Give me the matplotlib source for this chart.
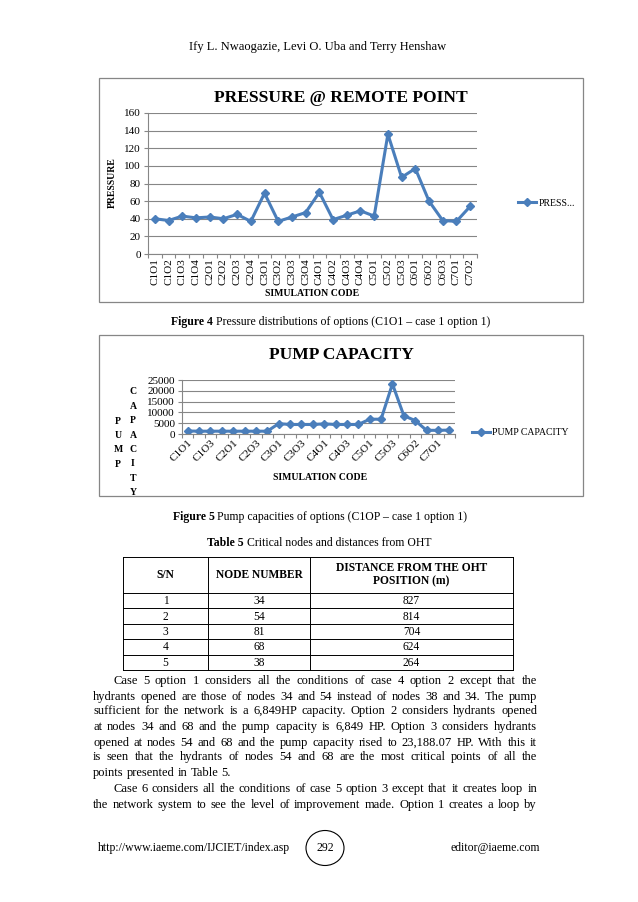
#!/usr/bin/env python3
"""
plot.py - page 292: pressure at remote point, pump capacity, table 5 and text.
"""
import numpy as np
import matplotlib
matplotlib.use("Agg")
import matplotlib.pyplot as plt
from matplotlib.font_manager import FontProperties, findfont, get_font
from matplotlib.backends.backend_agg import get_hinting_flag
from matplotlib.patches import Rectangle, Ellipse

# ─── Data ─────────────────────────────────────────────────────────────────
CODES = ["C1O1", "C1O2", "C1O3", "C1O4", "C2O1", "C2O2", "C2O3", "C2O4",
         "C3O1", "C3O2", "C3O3", "C3O4", "C4O1", "C4O2", "C4O3", "C4O4",
         "C5O1", "C5O2", "C5O3", "C6O1", "C6O2", "C6O3", "C7O1", "C7O2"]
PRESSURE = [40, 38, 43, 41, 42, 40, 45, 37, 69, 37, 42, 47,
            70, 39, 44, 49, 43, 136, 87, 97, 60, 38, 37, 54]
PUMP = [1400, 1300, 1300, 1300, 1300, 1300, 1300, 1300, 4800, 4400, 4400, 4400,
        4700, 4400, 4400, 4400, 6849, 6849, 23188, 8500, 6200, 1700, 1700, 1800]

TABLE_HEAD = ["S/N", "NODE NUMBER", "DISTANCE FROM THE OHT\nPOSITION (m)"]
TABLE_SN = [1, 2, 3, 4, 5]
TABLE_NODE = [34, 54, 81, 68, 38]
TABLE_DIST = [827, 814, 704, 624, 264]

HEADER = "Ify L. Nwaogazie, Levi O. Uba and Terry Henshaw"
CAP4 = ("Figure 4", " Pressure distributions of options (C1O1 \u2013 case 1 option 1)")
CAP5 = ("Figure 5", " Pump capacities of options (C1OP \u2013 case 1 option 1)")
CAPT5 = ("Table 5", " Critical nodes and distances from OHT")

# (text, indent, justified)
BODY = [
    ("Case 5 option 1 considers all the conditions of case 4 option 2 except that the", True, True),
    ("hydrants opened are those of nodes 34 and 54 instead of nodes 38 and 34. The pump", False, True),
    ("sufficient for the network is a 6,849HP capacity. Option 2 considers hydrants opened", False, True),
    ("at nodes 34 and 68 and the pump capacity is 6,849 HP. Option 3 considers hydrants", False, True),
    ("opened at nodes 54 and 68 and the pump capacity rised to 23,188.07 HP. With this it", False, True),
    ("is seen that the hydrants of nodes 54 and 68 are the most critical points of all the", False, True),
    ("points presented in Table 5.", False, False),
    ("Case 6 considers all the conditions of case 5 option 3 except that it creates loop in", True, True),
    ("the network system to see the level of improvement made. Option 1 creates a loop by", False, True),
]
BODY_Y = [680, 696, 711, 727, 742, 757, 773, 789, 805]

# ─── Style ────────────────────────────────────────────────────────────────
W, H = 638, 902
BLUE = "#4a7ebb"
GRID = "#868686"
SERIF = "Liberation Serif"


def box(x0, y0, x1, y1):
    return [x0 / W, 1 - y1 / H, (x1 - x0) / W, (y1 - y0) / H]


def style_axis(ax, ymax, step):
    ax.set_facecolor("none")
    ax.set_xlim(-0.5, len(CODES) - 0.5)
    ax.set_ylim(0, ymax)
    ax.set_yticks(np.arange(0, ymax + 1, step))
    ax.yaxis.grid(True, color=GRID, lw=0.8)
    ax.set_axisbelow(True)
    for s in ("top", "right"):
        ax.spines[s].set_visible(False)
    for s in ("left", "bottom"):
        ax.spines[s].set_color(GRID)
        ax.spines[s].set_linewidth(0.8)
    ax.set_xticks(np.arange(-0.5, len(CODES)), minor=True)
    ax.tick_params(axis="x", which="major", length=0, pad=3)
    ax.tick_params(axis="x", which="minor", length=3, color=GRID, width=0.8)
    ax.tick_params(axis="y", length=3, color=GRID, width=0.8, pad=2)
    for lab in ax.get_yticklabels():
        lab.set_fontfamily(SERIF)
        lab.set_fontsize(8)


def main() -> None:
    fig = plt.figure(figsize=(W / 100, H / 100), dpi=100)
    fig.patch.set_facecolor("white")
    bg = fig.add_axes([0, 0, 1, 1], zorder=0)
    bg.set_xlim(0, W)
    bg.set_ylim(H, 0)
    bg.axis("off")
    renderer = fig.canvas.get_renderer()

    def width(s, prop):
        return renderer.get_text_width_height_descent(s, prop, ismath=False)[0]

    def shift(s, prop):
        # Agg rounds the glyph bitmap per string; work out that offset so
        # single words keep a common baseline.
        try:
            font = get_font(findfont(prop))
            font.clear()
            font.set_size(prop.get_size_in_points(), fig.dpi)
            font.set_text(s, 0.0, flags=get_hinting_flag())
            _, h26 = font.get_width_height()
            d26 = font.get_descent()
            return round(d26 / 64) - h26 // 64 + (h26 - d26) // 64
        except Exception:
            return 0

    def put(x, y, s, prop, ha="left"):
        y = round(y)
        return bg.text(x, y - shift(s, prop), s, fontproperties=prop,
                       ha=ha, va="baseline")

    def caption(parts, xc, y, size):
        pb = FontProperties(family=SERIF, size=size, weight="bold")
        pr = FontProperties(family=SERIF, size=size)
        wb, wr = width(parts[0], pb), width(parts[1], pr)
        x0 = xc - (wb + wr) / 2
        put(x0, y, parts[0], pb)
        put(x0 + wb, y, parts[1], pr)

    # header
    put(318, 50, HEADER, FontProperties(family=SERIF, size=9), ha="center")

    # ─── Figure 4 ─────────────────────────────────────────────────────────
    bg.add_patch(Rectangle((99, 78), 484, 224, fill=False, ec=GRID, lw=0.9))
    ax1 = fig.add_axes(box(148, 113, 477, 254), zorder=1)
    x = np.arange(len(CODES))
    ax1.plot(x, PRESSURE, color=BLUE, lw=2.2, marker="D", ms=4.3, label="PRESS...")
    style_axis(ax1, 160, 20)
    ax1.set_xticks(x)
    ax1.set_xticklabels(CODES, rotation=90, family=SERIF, fontsize=8)
    bg.text(341, 98, "PRESSURE @ REMOTE POINT", family=SERIF, weight="bold",
            fontsize=12.6, ha="center", va="center")
    bg.text(112, 183, "PRESSURE", family=SERIF, weight="bold", fontsize=7,
            rotation=90, ha="center", va="center")
    bg.text(312, 294, "SIMULATION CODE", family=SERIF, weight="bold", fontsize=7,
            ha="center", va="center")
    ax1.legend(loc="center left", bbox_to_anchor=(518 / W, 1 - 203 / H),
               bbox_transform=fig.transFigure, frameon=False, borderpad=0,
               borderaxespad=0, handlelength=1.9, handletextpad=0.2,
               prop=FontProperties(family=SERIF, size=7))
    caption(CAP4, 331, 325, 8.5)

    # ─── Figure 5 ─────────────────────────────────────────────────────────
    frame2 = Rectangle((99, 335), 484, 161, fill=False, ec=GRID, lw=0.9)
    bg.add_patch(frame2)
    ax2 = fig.add_axes(box(182, 380, 455, 434), zorder=1)
    ax2.plot(x, PUMP, color=BLUE, lw=2.2, marker="D", ms=4.3, label="PUMP CAPACITY")
    style_axis(ax2, 25000, 5000)
    ax2.set_xticks(x[::2])
    ax2.set_xticklabels(CODES[::2], rotation=45, ha="right", rotation_mode="anchor",
                        family=SERIF, fontsize=8)
    bg.text(341, 355, "PUMP CAPACITY", family=SERIF, weight="bold",
            fontsize=12.6, ha="center", va="center")
    for i, ch in enumerate("PUMP"):
        bg.text(118, 421 + 14.4 * i, ch, family=SERIF, weight="bold", fontsize=7,
                ha="center", va="center")
    for i, ch in enumerate("CAPACITY"):
        t = bg.text(133, 392 + 14.4 * i, ch, family=SERIF, weight="bold", fontsize=7,
                    ha="center", va="center")
        t.set_clip_path(frame2)
    bg.text(320, 478, "SIMULATION CODE", family=SERIF, weight="bold", fontsize=7,
            ha="center", va="center")
    ax2.legend(loc="center left", bbox_to_anchor=(472 / W, 1 - 433 / H),
               bbox_transform=fig.transFigure, frameon=False, borderpad=0,
               borderaxespad=0, handlelength=1.9, handletextpad=0.2,
               prop=FontProperties(family=SERIF, size=7))
    caption(CAP5, 320, 520, 8.5)

    # ─── Table 5 ──────────────────────────────────────────────────────────
    caption(CAPT5, 319, 546, 8.5)
    cols = [123, 208, 310, 513]
    rows = [557, 593] + [593 + 15.4 * (i + 1) for i in range(len(TABLE_SN))]
    for yy in rows:
        bg.plot([cols[0], cols[-1]], [yy, yy], color="black", lw=0.7)
    for xx in cols:
        bg.plot([xx, xx], [rows[0], rows[-1]], color="black", lw=0.7)
    centers = [(cols[i] + cols[i + 1]) / 2 for i in range(3)]
    for xc, head in zip(centers, TABLE_HEAD):
        bg.text(xc, (rows[0] + rows[1]) / 2, head, family=SERIF, weight="bold",
                fontsize=8.3, ha="center", va="center", linespacing=1.15)
    cell = FontProperties(family=SERIF, size=8.3)
    for i, vals in enumerate(zip(TABLE_SN, TABLE_NODE, TABLE_DIST)):
        yc = (rows[i + 1] + rows[i + 2]) / 2
        for xc, v in zip(centers, vals):
            put(xc, yc + 3.5, str(v), cell, ha="center")

    # ─── Body text (justified, one text per word) ────────────────────────
    prop = FontProperties(family=SERIF, size=9)
    left, indent, right = 93, 113, 537
    space = width("a b", prop) - width("ab", prop)
    for (line, ind, just), yy in zip(BODY, BODY_Y):
        words = line.split()
        wds = [width(w, prop) for w in words]
        x0 = indent if ind else left
        gap = (right - x0 - sum(wds)) / (len(words) - 1) if just else space
        xx = x0
        for w, wd in zip(words, wds):
            put(xx, yy + 3.5, w, prop)
            xx += wd + gap

    # ─── Footer ───────────────────────────────────────────────────────────
    foot = FontProperties(family=SERIF, size=8.5)
    put(98, 851, "http://www.iaeme.com/IJCIET/index.asp", foot)
    bg.add_patch(Ellipse((325, 848), 38, 35, fill=False, ec="black", lw=0.8))
    put(325, 851, "292", foot, ha="center")
    put(540, 851, "editor@iaeme.com", foot, ha="right")

    fig.savefig("out.png", dpi=100)


if __name__ == "__main__":
    main()
